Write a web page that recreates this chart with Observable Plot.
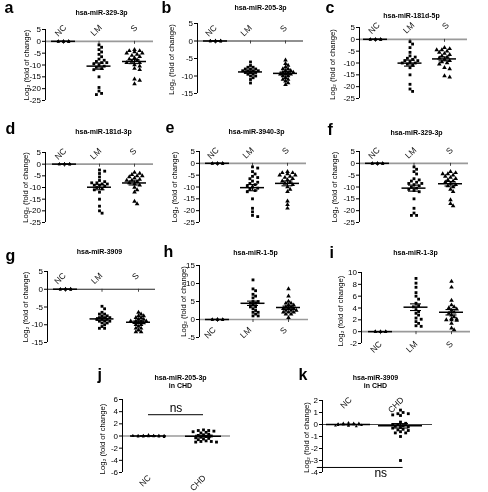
<!DOCTYPE html>
<html><head><meta charset="utf-8">
<script src="https://cdn.jsdelivr.net/npm/d3@7"></script>
<script src="https://cdn.jsdelivr.net/npm/@observablehq/plot@0.6"></script>
<style>
body{margin:0;background:#fff}
#fig{position:relative;width:488px;height:492px;overflow:hidden;font-family:'Liberation Sans',Arial,Helvetica,sans-serif;color:#000}
#fig svg{position:absolute;left:0;top:0;will-change:transform}
</style></head><body><div id="fig"></div><script>
// ---------- data ----------
const cats3 = ["NC", "LM", "S"];
const cats2 = ["NC", "CHD"];
const panelLetters = ["a","b","c","d","e","f","g","h","i","j","k"];
const panelTitles = ["hsa-miR-329-3p","hsa-miR-205-3p","hsa-miR-181d-5p","hsa-miR-181d-3p","hsa-miR-3940-3p","hsa-miR-329-3p","hsa-miR-3909","hsa-miR-1-5p","hsa-miR-1-3p","hsa-miR-205-3p","hsa-miR-3909"];
const subTitles = ["","","","","","","","","","in CHD","in CHD"];
const yLabel = "Log\u2082 (fold of change)";

const ticks25 = [5, 0, -5, -10, -15, -20, -25];
const ticks15 = [5, 0, -5, -10, -15];
const ticksH = [15, 10, 5, 0, -5];
const ticksI = [10, 8, 6, 4, 2, 0, -2];
const ticksJ = [6, 4, 2, 0, -2, -4, -6];
const ticksK = [2, 1, 0, -1, -2, -3, -4];

const aNC = [0.1, 0, -0.1, 0.2, 0, -0.1, 0.1, -0.2, 0, 0.1, -0.1, 0, 0.2, -0.1, 0, 0.1, -0.2, 0, 0.1, -0.1];
const aLM = [-1.5, -2.5, -3.5, -4.5, -5.5, -6.5, -7.5, -8, -8.5, -9, -9, -9.5, -10, -10.5, -11, -11.5, -12, -15, -19.5, -21, -22, -22.5];
const aS  = [-3.5, -4, -4, -4.5, -5, -5, -5.5, -6, -6.5, -7, -7.5, -8, -8.5, -9, -9, -10, -10.5, -11.5, -12, -16, -16.5, -18];

const bNC = [0.1, -0.1, 0, 0.2, -0.2, 0, 0.1, -0.1, 0, 0.1, 0, -0.1, 0.2, 0, -0.1, 0.1, 0, -0.2, 0.1, 0];
const bLM = [-6, -7, -7.5, -7.5, -8, -8, -8, -8.5, -8.5, -8.5, -8.5, -9, -9, -9, -9, -9.5, -9.5, -10, -10, -10.5, -11, -12];
const bS  = [-5.5, -6.5, -7, -7.5, -8, -8, -8.5, -8.5, -9, -9, -9, -9.5, -9.5, -9.5, -10, -10, -10.5, -11, -11, -11.5, -12, -12.5];

const cNC = [0, 0.1, -0.1, 0.1, 0, -0.2, 0.2, 0, -0.1, 0.1, 0, -0.1, 0, 0.1, -0.1, 0.2, 0, -0.1, 0, 0.1];
const cLM = [-1, -2, -3.5, -5.5, -7, -7.5, -8, -8.5, -9, -9, -9.5, -10, -10, -10.5, -11, -12, -15, -19, -21, -22];
const cS  = [-3.5, -4, -4.5, -4.5, -5, -5.5, -6, -6.5, -7, -7.5, -8, -8.5, -9, -9.5, -10, -10.5, -12, -12.5, -15.5, -16];

const dNC = [0.1, 0, -0.1, 0, 0.2, -0.1, 0.1, 0, -0.2, 0.1, 0, -0.1, 0.1, 0, -0.1, 0, 0.2, -0.1, 0, 0.1];
const dLM = [-2.5, -3, -4, -5.5, -7, -7.5, -8, -8, -8.5, -8.5, -9, -9, -9.5, -10, -10.5, -11, -12, -15, -18, -20, -21];
const dS  = [-3.5, -4, -4.5, -5, -5, -5.5, -6, -6.5, -7, -7, -7.5, -8, -8.5, -9, -10, -11, -12, -16, -17];

const eNC = [0, 0.1, -0.1, 0.2, 0, -0.1, 0.1, 0, -0.2, 0, 0.1, -0.1, 0, 0.1, 0, -0.1, 0.2, 0, -0.1, 0.1];
const eLM = [-1.5, -2, -3.5, -4.5, -5.5, -6, -6.5, -7.5, -8, -8.5, -9, -9.5, -10, -10.5, -11, -11.5, -12, -15, -19, -20.5, -22, -22.5];
const eS  = [-3.5, -4, -4, -4.5, -5, -5, -5.5, -6, -6.5, -7, -7.5, -8, -8.5, -9, -10, -11, -12, -16, -17.5, -19];

const fNC = [0.1, 0, -0.1, 0.1, 0, -0.2, 0, 0.2, -0.1, 0, 0.1, -0.1, 0, 0.1, 0, -0.1, 0, 0.1, -0.1, 0];
const fLM = [-1.5, -2.5, -3.5, -4.5, -6.5, -7, -7.5, -8, -8.5, -8.5, -9, -9.5, -10, -10.5, -11, -11.5, -12, -15, -19, -21, -22, -22];
const fS  = [-3.5, -4, -4.5, -4.5, -5, -5.5, -6, -6.5, -7, -7.5, -8, -8.5, -9, -9.5, -10, -11, -12, -15.5, -17, -18];

const gNC = [0.1, 0, -0.1, 0.2, 0, -0.1, 0.1, 0, -0.2, 0.1, 0, -0.1, 0, 0.1, -0.1, 0, 0.2, 0, -0.1, 0.1];
const gLM = [-4.8, -5.5, -6.5, -7, -7, -7.5, -7.5, -8, -8, -8, -8.5, -8.5, -8.5, -9, -9, -9, -9.5, -9.5, -10, -10.5, -11, -11];
const gS  = [-6.5, -7, -7.5, -7.5, -8, -8, -8.5, -8.5, -9, -9, -9, -9, -9.5, -9.5, -10, -10, -10.5, -11, -11, -11.5, -12, -12];

const hNC = [0, 0.1, -0.1, 0, 0.2, -0.1, 0, 0.1, -0.2, 0, 0.1, -0.1, 0, 0.1, 0, -0.1, 0.1, 0, -0.1, 0];
const hLM = [11, 8.5, 8, 7, 6.5, 6, 5, 5, 4.5, 4.5, 4, 3.5, 3.5, 3, 2.5, 2, 2, 1.5, 1, 1];
const hS  = [8.5, 6.5, 5, 4.5, 4.5, 4, 4, 3.5, 3.5, 3, 3, 3, 2.5, 2.5, 2.5, 2, 2, 2, 1.5, 1.5, 0.5];

const iNC = [0.05, 0, -0.05, 0.1, 0, -0.1, 0.05, 0, -0.1, 0.1, 0, -0.05, 0, 0.05, -0.05, 0, 0.1, 0, -0.05, 0.05];
const iLM = [9, 8.2, 7.5, 6.6, 6, 5.5, 4.8, 4.4, 4.2, 3.7, 3.4, 3.1, 2.8, 2.3, 2.1, 1.7, 1.4, 1, 0.9];
const iS  = [8.5, 7.5, 5.3, 4.5, 4.2, 4, 3.8, 3.6, 3.3, 3.1, 2.8, 2.5, 2.2, 2.1, 2, 2, 1.9, 1.4, 0.6, 0.3];

const jNC  = [0.1, 0, -0.1, 0.05, -0.05, 0, 0.1, -0.1, 0, 0.05, 0, -0.05, 0.1, 0, -0.2, 0.2, 0, -0.1, 0.05, 0];
const jCHD = [1, 0.9, 0.9, 0.8, 0.7, 0.6, 0.5, 0.3, 0.2, 0.1, 0, -0.1, -0.2, -0.3, -0.4, -0.5, -0.6, -0.8, -0.9, -0.9, -1, -1];

const kNC  = [0.15, 0.1, 0, -0.05, 0, 0.05, -0.1, 0, 0.1, -0.1, 0, 0.05, -0.15, 0, 0.1, -0.05, 0, 0.05, -0.1, 0];
const kCHD = [1.2, 1, 0.9, 0.9, 0.8, 0.75, 0.2, 0.1, 0, 0, -0.1, -0.15, -0.2, -0.25, -0.3, -0.4, -0.45, -0.5, -0.6, -0.7, -0.7, -1, -3];

// ---------- layout (page pixels) ----------
const FONT = "'Liberation Sans', Arial, Helvetica, sans-serif";
const G = "#9a9a9a", D = "#222";
const layouts = [
  {ax:45,  c0:63,  step:35.5, end:153, yT:29,  yB:100, zc:G, zw:1.6, lpos:"zero", ldx:1.5, ldy:-15, ylx:26.5, yldy:0, half:10, mh:12, ch:5.5, xt:true},
  {ax:197, c0:215, step:35,   end:303, yT:23,  yB:93,  zc:D, zw:1,   lpos:"zero", ldx:0,   ldy:-14.5, ylx:171.5, yldy:1, half:10, mh:12, ch:5.5, xt:true},
  {ax:359, c0:375, step:34.5, end:467, yT:27,  yB:98,  zc:G, zw:1.6, lpos:"zero", ldx:3,   ldy:-15.5, ylx:332, yldy:1.5, half:10, mh:12, ch:5.5, xt:true},
  {ax:45,  c0:64,  step:35,   end:153, yT:152, yB:222, zc:G, zw:1.6, lpos:"zero", ldx:0.5, ldy:-14.5, ylx:25, yldy:0, half:10, mh:12, ch:5.5, xt:true},
  {ax:199, c0:217, step:35,   end:306, yT:151, yB:222, zc:G, zw:1.6, lpos:"zero", ldx:0,   ldy:-14.5, ylx:174, yldy:0, half:10, mh:12, ch:5.5, xt:true},
  {ax:359, c0:377, step:36.5, end:468, yT:151, yB:222, zc:G, zw:1.6, lpos:"zero", ldx:1,   ldy:-14.5, ylx:334, yldy:0, half:10, mh:12, ch:5.5, xt:true},
  {ax:47,  c0:65,  step:36.5, end:155, yT:271, yB:342, zc:D, zw:1.2, lpos:"zero", ldx:-1,  ldy:-15, ylx:25, yldy:0, half:10, mh:12, ch:5.5, xt:true},
  {ax:199, c0:217, step:35.5, end:308, yT:265, yB:337, zc:G, zw:1.6, lpos:"zero", ldx:-3,  ldy:9, ylx:183, yldy:0, half:10, mh:12, ch:5.5, xt:true},
  {ax:361, c0:380, step:35.5, end:470, yT:272, yB:343, zc:G, zw:1.6, lpos:"zero", ldx:0,   ldy:11, ylx:340, yldy:3, half:10, mh:12, ch:5.5, xt:true},
  {ax:122, c0:148, step:55,   end:230, yT:399, yB:472, zc:G, zw:1.6, lpos:"bottom", ldx:1, ldy:4, ylx:102.5, yldy:3, half:16, mh:18, ch:8, xt:false},
  {ax:322, c0:348, step:52,   end:432, yT:400, yB:472, zc:"#444", zw:1, lpos:"top", ldx:2, ldy:-2, ylx:306, yldy:1, half:14, mh:22, ch:8, xt:false}
];
const panelGroups = [[aNC,aLM,aS],[bNC,bLM,bS],[cNC,cLM,cS],[dNC,dLM,dS],[eNC,eLM,eS],[fNC,fLM,fS],[gNC,gLM,gS],[hNC,hLM,hS],[iNC,iLM,iS],[jNC,jCHD],[kNC,kCHD]];
const panelTicks = [ticks25,ticks15,ticks25,ticks25,ticks25,ticks25,ticks15,ticksH,ticksI,ticksJ,ticksK];
const sym3 = [["triangle",1.1],["square",1.6],["triangle",1.7]];
const sym2 = [["triangle",1.1],["square",1.6]];
// letter: [left x, baseline y]; title: [centre x, first baseline y]
const letterPos = [[4,13],[161,12.5],[325,13],[5,134],[165,133],[327,135],[5,261],[163,257],[329,258],[97,380],[298,380]];
const titlePos  = [[101,14],[260,9],[411,17],[103,133],[256,133],[416,134],[99,253],[255,254],[415,254],[180,379],[375,379]];

// ns annotations for j and k (category-index units / y units)
const nsNotes = {9: {x1:0, x2:1, y:3.5, tx:0.5, tdy:-2.5}, 10: {x1:-0.6, x2:1.05, y:-3.58, tx:0.62, tdy:9.5}};

// swarm layout: horizontal offsets (px) so that points do not overlap
function swarm(vals, pxU, rad, maxHalf, stepPx) {
  const order = d3.range(vals.length).sort((a, b) => d3.descending(vals[a], vals[b]));
  const slots = [0];
  for (let k = 1; k * stepPx <= maxHalf + 1e-9; k++) slots.push(k * stepPx, -k * stepPx);
  const placed = [], off = new Array(vals.length), d2 = (2 * rad) ** 2;
  for (const i of order) {
    const y = vals[i] * pxU;
    let best = 0, bestC = Infinity;
    for (const s of slots) {
      let c = 0;
      for (const p of placed) if ((p.x - s) ** 2 + (p.y - y) ** 2 < d2) c++;
      if (c < bestC) { bestC = c; best = s; if (c === 0) break; }
    }
    off[i] = best; placed.push({x: best, y});
  }
  return off;
}

const fig = document.getElementById("fig");
panelGroups.forEach((groups, p) => {
  const L = layouts[p];
  const cats = groups.length === 3 ? cats3 : cats2;
  const syms = groups.length === 3 ? sym3 : sym2;
  const tk = panelTicks[p];
  const yDom = [d3.min(tk), d3.max(tk)];
  const pxU = (L.yB - L.yT) / (yDom[1] - yDom[0]);
  const xDom = [(L.ax - L.c0) / L.step, (L.end - L.c0) / L.step];
  const marks = [];
  marks.push(Plot.ruleY([0], {stroke: L.zc, strokeWidth: L.zw}));
  if (L.xt) marks.push(Plot.ruleX(cats, {x: (d, i) => i, y1: () => 0, y2: () => -3 / pxU, stroke: "#333", strokeWidth: 0.9}));
  marks.push(Plot.ruleX([xDom[0]], {y1: () => yDom[0], y2: () => yDom[1], stroke: "#000", strokeWidth: 1}));
  marks.push(Plot.axisY({ticks: tk, tickFormat: d => String(d), tickSize: 3, tickPadding: 1.5, label: null, fontSize: 8}));
  groups.forEach((vals, gi) => {
    const off = swarm(vals, pxU, 1.5, L.half, 2.6);
    const pts = vals.map((v, k) => ({x: gi + off[k] / L.step, v}));
    marks.push(Plot.dot(pts, {x: "x", y: "v", symbol: syms[gi][0], r: syms[gi][1], fill: "#000"}));
  });
  const stats = groups.map((vals, gi) => ({i: gi, m: d3.mean(vals), s: d3.deviation(vals) / Math.sqrt(vals.length)}));
  const mh = L.mh / L.step, chh = L.ch / L.step;
  marks.push(Plot.ruleY(stats, {y: "m", x1: d => d.i - mh, x2: d => d.i + mh, stroke: "#000", strokeWidth: 1.5}));
  marks.push(Plot.ruleX(stats, {x: "i", y1: d => d.m - d.s, y2: d => d.m + d.s, stroke: "#000", strokeWidth: 1.1}));
  marks.push(Plot.ruleY(stats, {y: d => d.m + d.s, x1: d => d.i - chh, x2: d => d.i + chh, stroke: "#000", strokeWidth: 1.1}));
  marks.push(Plot.ruleY(stats, {y: d => d.m - d.s, x1: d => d.i - chh, x2: d => d.i + chh, stroke: "#000", strokeWidth: 1.1}));
  const labOpt = {x: (d, i) => i, text: d => d, rotate: -45, textAnchor: "end", lineAnchor: "middle", fontSize: 8.5, dx: L.ldx, dy: L.ldy, fill: "#111"};
  if (L.lpos === "zero") labOpt.y = () => 0; else labOpt.frameAnchor = L.lpos;
  marks.push(Plot.text(cats, labOpt));
  marks.push(Plot.text([yLabel], {text: d => d, frameAnchor: "left", textAnchor: "middle", lineAnchor: "middle",
    dx: L.ylx - L.ax, dy: L.yldy || 0, rotate: -90, fontSize: 7.6, fill: "#000"}));
  const ns = nsNotes[p];
  if (ns) {
    marks.push(Plot.ruleY([ns], {y: "y", x1: "x1", x2: "x2", stroke: "#000", strokeWidth: 1}));
    marks.push(Plot.text([ns], {x: "tx", y: "y", text: () => "ns", dy: ns.tdy, lineAnchor: "bottom", fontSize: 12, fill: "#000"}));
  }
  // panel letter and title
  marks.push(Plot.text([panelLetters[p]], {text: d => d, frameAnchor: "top-left", textAnchor: "start", lineAnchor: "top",
    dx: letterPos[p][0] - L.ax, dy: letterPos[p][1] - 11.4 - L.yT, fontSize: 16, fontWeight: "bold", fill: "#000"}));
  const title = panelTitles[p] + (subTitles[p] ? "\n" + subTitles[p] : "");
  marks.push(Plot.text([title], {text: d => d, frameAnchor: "top-left", textAnchor: "middle", lineAnchor: "top", lineHeight: 1.15,
    dx: titlePos[p][0] - L.ax, dy: titlePos[p][1] - 5 - L.yT, fontSize: 7, fontWeight: "bold", fill: "#000"}));
  const svg = Plot.plot({
    width: 488, height: 492,
    marginLeft: L.ax, marginRight: 488 - L.end, marginTop: L.yT, marginBottom: 492 - L.yB,
    x: {type: "linear", domain: xDom, axis: null},
    y: {type: "linear", domain: yDom, axis: null},
    style: {fontFamily: FONT, fontSize: "8px", background: "transparent", overflow: "visible", color: "#000"},
    marks
  });
  svg.style.position = "absolute"; svg.style.left = "0px"; svg.style.top = "0px";
  fig.appendChild(svg);
});
</script></body></html>
